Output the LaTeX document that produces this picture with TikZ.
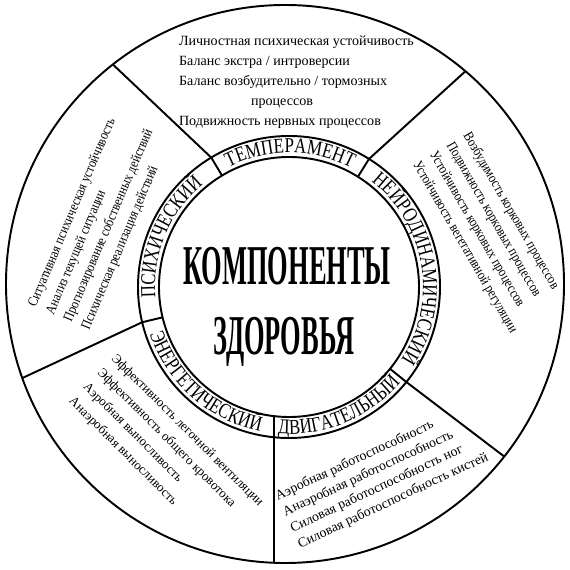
\documentclass[tikz,border=0pt]{standalone}
\usepackage{fontspec}
\setmainfont{Liberation Serif}
\newfontfamily\titlefont[FakeStretch=0.47]{Liberation Serif}
\newfontfamily\narrowfont[FakeStretch=0.85]{Liberation Serif}
\newfontfamily\ringfont[FakeStretch=0.8]{Liberation Serif}
\usetikzlibrary{decorations.text}
\begin{document}
\begin{tikzpicture}[x=.2mm,y=.2mm,line width=1.1pt,line join=round,
  items/.style={align=left,inner sep=0pt,font=\fontsize{8}{11.4}\selectfont},
  narrowitems/.style={items,font=\narrowfont\fontsize{8}{11}\selectfont},
  ringlabel/.style={decorate,decoration={text along path,text align=center,
    text={|\ringfont\fontsize{12}{14}\selectfont|#1}}}]
  \useasboundingbox (-285,-286) rectangle (285,284);
  \draw (0,0) circle (279);
  % ring of the five components
  \begin{scope}[shift={(4,-3)}]
    \draw (0,0) circle (151);
    \draw (0,0) circle (130);
    \foreach \a/\n in {121/a,58/b,-39/c,193.5/e} {
      \coordinate (in\n) at (\a:130);
      \coordinate (out\n) at (\a:151);
    }
    \path[ringlabel=ПСИХИЧЕСКИЙ] (193.5:134) arc[start angle=193.5,end angle=121,radius=134];
    \path[ringlabel=ТЕМПЕРАМЕНТ] (121:134) arc[start angle=121,end angle=58,radius=134];
    \path[ringlabel=НЕЙРОДИНАМИЧЕСКИЙ] (58:134) arc[start angle=58,end angle=-39,radius=134];
    \path[ringlabel=ДВИГАТЕЛЬНЫЙ] (-96:147) arc[start angle=-96,end angle=-39,radius=147];
    \path[ringlabel=ЭНЕРГЕТИЧЕСКИЙ] (193.5:147) arc[start angle=193.5,end angle=264,radius=147];
  \end{scope}
  \coordinate (ind) at (-11,-132.1);
  \coordinate (outd) at (-11,-153.3);
  \coordinate (rima) at (128.1:279);
  \coordinate (rimb) at (49.7:279);
  \coordinate (rimc) at (-38.2:279);
  \coordinate (rimd) at (-11,-278.8);
  \coordinate (rime) at (199.7:279);
  \foreach \n in {a,b,c,d,e}
    \draw (in\n) -- (out\n) -- (rim\n);
  % centre
  \node[font=\titlefont\bfseries\fontsize{32}{40}\selectfont,anchor=base] (title) at (2,-1) {КОМПОНЕНТЫ};
  \node[font=\titlefont\bfseries\fontsize{32}{40}\selectfont,anchor=base] (titlesub) at (-1,-71) {ЗДОРОВЬЯ};
  % sectors
  \node[items] (temper) at (11.5,201.5) {Личностная психическая устойчивость\\
    Баланс экстра / интроверсии\\
    Баланс возбудительно / тормозных\\
    \hspace*{41pt}процессов\\
    Подвижность нервных процессов};
  \node[narrowitems,rotate=67] (psych) at (-185,62) {Ситуативная психическая устойчивость\\
    Анализ текущей ситуации\\
    Прогнозирование собственных действий\\
    Психическая реализация действий};
  \node[narrowitems,rotate=-60] (neuro) at (205,51) {Возбудимость корковых процессов\\
    Подвижность корковых процессов\\
    Устойчивость корковых процессов\\
    Устойчивость вегетативной регуляции};
  \node[items,font=\fontsize{7.4}{11.4}\selectfont,rotate=-45] (energy) at (-119,-168) {Эффективность легочной вентиляции\\
    Эффективность общего кровотока\\
    Аэробная выносливость\\
    Анаэробная выносливость};
  \node[items,font=\fontsize{7.8}{10}\selectfont,rotate=25] (motor) at (97,-193) {Аэробная работоспособность\\
    Анаэробная работоспособность\\
    Силовая работоспособность ног\\
    Силовая работоспособность кистей};
\end{tikzpicture}
\end{document}
